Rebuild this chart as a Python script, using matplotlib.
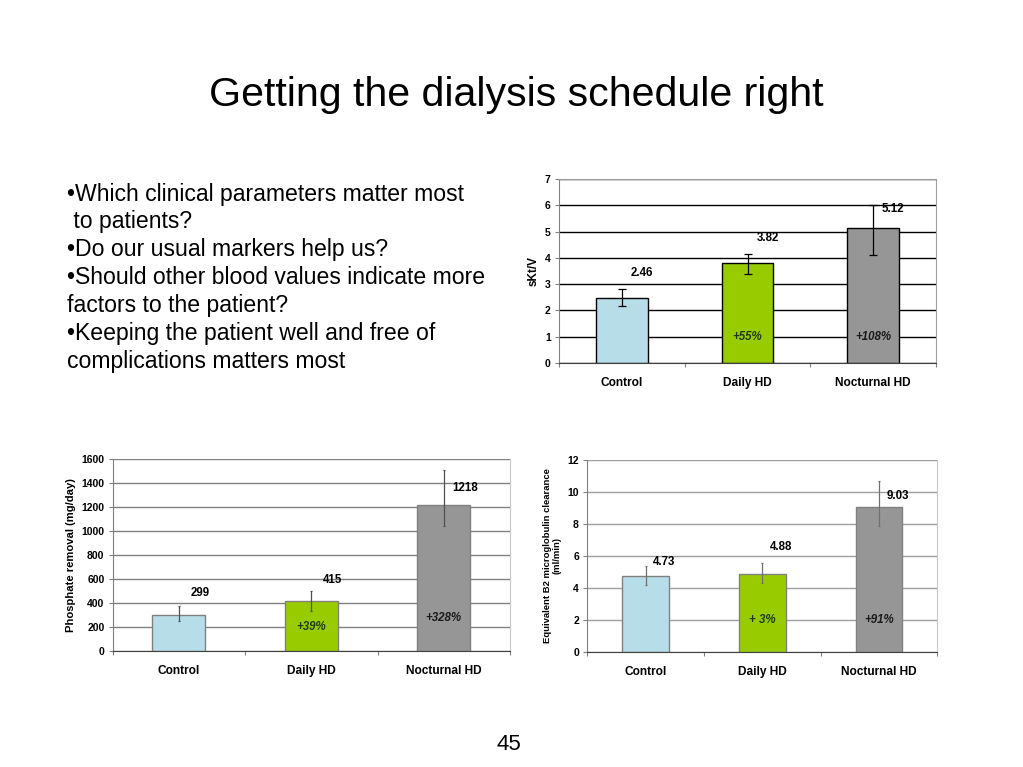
import numpy as np
import matplotlib
matplotlib.use('Agg')
import matplotlib.pyplot as plt

plt.rcParams['font.family'] = ['Liberation Sans', 'DejaVu Sans']

# Data
groups = ['Control', 'Daily HD', 'Nocturnal HD']
bar_colors = ['#b7dee8', '#99cc00', '#969696']

ktv = [2.46, 3.82, 5.12]
ktv_err_lo = [0.28, 0.45, 1.01]
ktv_err_hi = [0.35, 0.34, 0.89]
ktv_pct = ['', '+55%', '+108%']

phos = [299, 415, 1218]
phos_err_lo = [46, 78, 175]
phos_err_hi = [79, 86, 293]
phos_pct = ['', '+39%', '+328%']

b2m = [4.73, 4.88, 9.03]
b2m_err_lo = [0.56, 0.61, 1.16]
b2m_err_hi = [0.65, 0.68, 1.66]
b2m_pct = ['', '+ 3%', '+91%']

bullets = [
    '\u2022Which clinical parameters matter most',
    ' to patients?',
    '\u2022Do our usual markers help us?',
    '\u2022Should other blood values indicate more',
    'factors to the patient?',
    '\u2022Keeping the patient well and free of',
    'complications matters most',
]

pct_colors = ['#1a1a1a', '#1f3a10', '#1a1a1a']


def bar_panel(ax, vals, lo, hi, pct, ylim, step, ylabel, grid_col, edge_col,
              err_col, cap, label_dy, pct_y, width, ylabel_size=8):
    x = np.arange(len(groups))
    ax.bar(x, vals, width=width, color=bar_colors, edgecolor=edge_col,
           linewidth=1.0, zorder=2)
    ax.errorbar(x, vals, yerr=[lo, hi], fmt='none', ecolor=err_col,
                elinewidth=0.9, capsize=cap, capthick=0.9, zorder=3)
    for i, v in enumerate(vals):
        ax.annotate(str(v), (x[i] + 0.16, v), xytext=(0, label_dy[i]),
                    textcoords='offset points', ha='center', va='center',
                    fontsize=8.3, fontweight='bold')
        if pct[i]:
            ax.text(x[i], pct_y[i], pct[i], ha='center', va='center',
                    fontsize=8.3, fontweight='bold', style='italic',
                    color=pct_colors[i], zorder=4)
    ax.set_xlim(-0.5, 2.5)
    ax.set_ylim(*ylim)
    ax.set_yticks(np.arange(ylim[0], ylim[1] + step / 2, step))
    ax.yaxis.grid(True, color=grid_col, linewidth=1.0, zorder=0)
    ax.set_axisbelow(True)
    ax.set_xticks([-0.5, 0.5, 1.5, 2.5], minor=False)
    ax.set_xticklabels([])
    ax.tick_params(axis='x', length=3, color='#808080', width=0.8)
    ax.set_xticks(x, minor=True)
    ax.set_xticklabels(groups, minor=True, fontsize=8.6, fontweight='bold')
    ax.tick_params(axis='x', which='minor', length=0, pad=10)
    ax.tick_params(axis='y', length=3, color='#808080', width=0.8,
                   labelsize=7.5, pad=3)
    for t in ax.get_yticklabels():
        t.set_fontweight('bold')
    ax.set_ylabel(ylabel, fontsize=ylabel_size, fontweight='bold', labelpad=4)
    ax.spines['left'].set_color('#808080')
    ax.spines['bottom'].set_color('#404040')
    ax.spines['top'].set_visible(False)
    ax.spines['right'].set_color('#c8c8c8')


def main():
    fig = plt.figure(figsize=(10.23, 7.67), dpi=100)

    fig.text(0.5044, 0.876, 'Getting the dialysis schedule right',
             ha='center', va='center', fontsize=29.6)

    for i, line in enumerate(bullets):
        fig.text(0.0655, 1 - (194 + i * 27.9) / 767, line, ha='left',
                 va='center', fontsize=16.6)

    fig.text(0.497, 1 - 745 / 767, '45', ha='center', va='center',
             fontsize=16)

    ax1 = fig.add_axes([0.5464, 0.5267, 0.3686, 0.2399])
    bar_panel(ax1, ktv, ktv_err_lo, ktv_err_hi, ktv_pct, (0, 7), 1, 'sKt/V',
              'black', 'black', 'black', 3, [18, 18, 14], [1, 1, 1], 0.41,
              ylabel_size=8.5)
    ax1.spines['right'].set_color('#a0a0a0')
    ax1.spines['top'].set_visible(True)
    ax1.spines['top'].set_color('#a0a0a0')

    ax2 = fig.add_axes([0.1102, 0.1512, 0.3883, 0.2504])
    bar_panel(ax2, phos, phos_err_lo, phos_err_hi, phos_pct, (0, 1600), 200,
              'Phosphate removal (mg/day)', '#808080', '#808080', '#505050',
              1, [16, 15, 12], [0, 200, 276], 0.40, ylabel_size=8.1)

    ax3 = fig.add_axes([0.5741, 0.1503, 0.3421, 0.2504])
    bar_panel(ax3, b2m, b2m_err_lo, b2m_err_hi, b2m_pct, (0, 12), 2,
              'Equivalent B2 microglobulin clearance\n(ml/min)', '#a0a0a0',
              '#808080', '#707070', 1, [10, 19, 8], [0, 1.98, 1.98], 0.40,
              ylabel_size=6.8)

    fig.savefig('out.png', dpi=100)


if __name__ == '__main__':
    main()
